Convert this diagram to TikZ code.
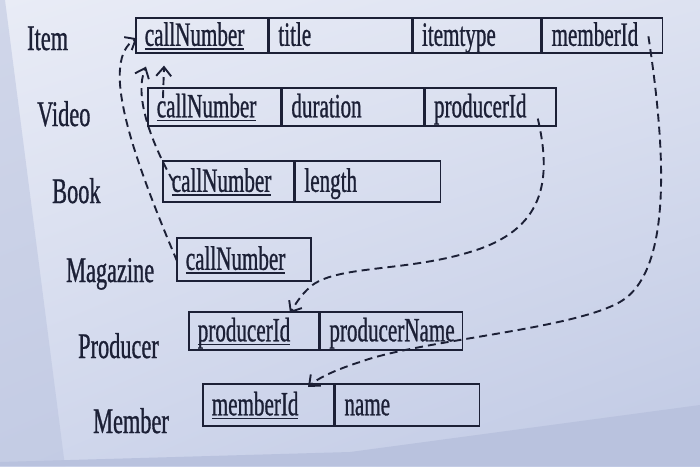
\documentclass[tikz,border=0pt]{standalone}
\usepackage{fontspec}
\setmainfont{Liberation Serif}[FakeStretch=0.62,FakeBold=0.8]
\usetikzlibrary{arrows.meta,calc,shadings}
\definecolor{ink}{HTML}{1C2036}
\definecolor{bgUL}{HTML}{E9ECF6}
\definecolor{bgUR}{HTML}{DDE2F1}
\definecolor{bgLL}{HTML}{D0D7EC}
\definecolor{bgLR}{HTML}{C0C9E4}
\definecolor{bezel}{HTML}{B9C2DE}
\newcommand\keyul[1]{\setbox0\hbox{#1}\rlap{\color{ink}\rule[-4pt]{\wd0}{1.6pt}}\box0}
\tikzset{
  cell/.style={draw=ink, line width=1.6pt, anchor=north west, text=ink,
    text width=#1, inner xsep=9pt, inner ysep=0pt, align=left,
    text height=25pt, text depth=4pt, font=\fontsize{34}{38}\selectfont},
  lbl/.style={anchor=base west, inner sep=0pt, text=ink,
    font=\fontsize{36}{40}\selectfont},
  fk/.style={draw=ink, line width=1.9pt, dash pattern=on 8pt off 5pt,
    -{Straight Barb[length=9pt,width=15pt]}}
}
\begin{document}
\begin{tikzpicture}[x=1pt,y=-1pt]
\useasboundingbox (0,0) rectangle (700,466);
\shade[upper left=bgUL, upper right=bgUR, lower left=bgLL, lower right=bgLR] (0,0) rectangle (700,466);
\fill[bezel] (0,462) -- (350,452) -- (700,405) -- (700,466) -- (0,466) -- cycle;
\fill[bezel, opacity=0.5] (0,0) -- (5,0) -- (65,466) -- (0,466) -- cycle;

% labels
\node[lbl] (lItem) at (27,50) {Item};
\node[lbl] (lVideo) at (37,126) {Video};
\node[lbl] (lBook) at (52,203) {Book};
\node[lbl] (lMag) at (66,282) {Magazine};
\node[lbl] (lProd) at (78,358) {Producer};
\node[lbl] (lMem) at (93,433) {Member};

% Item
\node[cell=114pt, minimum height=35pt] (i1) at (135,17) {\keyul{callNumber}};
\node[cell=124pt, minimum height=35pt] (i2) at (i1.north east) {title};
\node[cell=110pt, minimum height=35pt] (i3) at (i2.north east) {itemtype};
\node[cell=102pt, minimum height=35pt] (i4) at (i3.north east) {memberId};
% Video
\node[cell=115pt, minimum height=38pt] (v1) at (147,87) {\keyul{callNumber}};
\node[cell=123pt, minimum height=38pt] (v2) at (v1.north east) {duration};
\node[cell=113pt, minimum height=38pt] (v3) at (v2.north east) {producerId};
% Book
\node[cell=113pt, minimum height=41pt] (b1) at (162,160) {\keyul{callNumber}};
\node[cell=127pt, minimum height=41pt] (b2) at (b1.north east) {length};
% Magazine
\node[cell=116pt, minimum height=43pt] (m1) at (176,237) {\keyul{callNumber}};
% Producer
\node[cell=112pt, minimum height=38pt] (p1) at (188,311) {\keyul{producerId}};
\node[cell=124pt, minimum height=38pt] (p2) at (p1.north east) {producerName};
% Member
\node[cell=113pt, minimum height=42pt] (me1) at (202,383) {\keyul{memberId}};
\node[cell=126pt, minimum height=42pt] (me2) at (me1.north east) {name};

% connector end points
\coordinate (s1) at ($(v1.north west)+(16,11)$);
\coordinate (t1) at ($(i1.south west)+(29,12)$);
\coordinate (s2) at ($(b1.north west)+(11,21)$);
\coordinate (t2) at ($(i1.south west)+(11,13)$);
\coordinate (s3) at ($(m1.north west)+(1,24)$);
\coordinate (t3) at ($(i1.west)+(2,3)$);
\coordinate (s4) at ($(v3.south east)+(-19,-8)$);
\coordinate (t4) at ($(p1.north west)+(102,2)$);
\coordinate (s5) at ($(i4.east)+(-15,1)$);
\coordinate (t5) at ($(me1.north west)+(106,4)$);

\draw[fk] (s1) -- (t1);
\draw[fk] (s2) .. controls (150,140) and (134,95) .. (t2);
\draw[fk] (s3) .. controls (130,150) and (100,60) .. (t3);
\draw[fk] (s4) .. controls (552,180) and (545,230) .. (470,252)
  .. controls (405,272) and (335,265) .. (310,287)
  .. controls (300,296) and (295,305) .. (t4);
\draw[fk] (s5) .. controls (664,140) and (675,270) .. (620,302)
  .. controls (570,330) and (420,340) .. (360,362)
  .. controls (335,370) and (318,378) .. (t5);
\end{tikzpicture}
\end{document}
